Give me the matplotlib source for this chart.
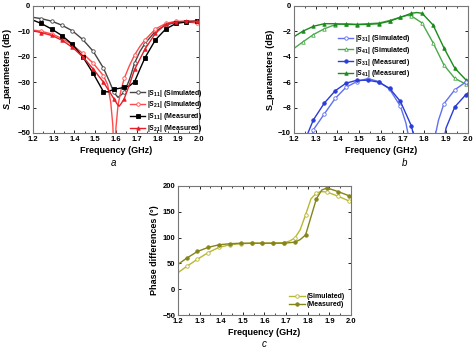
import numpy as np
import matplotlib
matplotlib.use("Agg")
from matplotlib import pyplot as plt

plt.rcParams['font.family'] = 'Liberation Sans'
plt.rcParams['font.weight'] = 'bold'
plt.rcParams['mathtext.fontset'] = 'custom'
plt.rcParams['mathtext.rm'] = 'Liberation Sans:bold'
plt.rcParams['mathtext.it'] = 'Liberation Sans:italic:bold'
plt.rcParams['axes.linewidth'] = 0.8

marker_freqs = [1.24, 1.29, 1.34, 1.39, 1.44, 1.49, 1.54, 1.59, 1.64, 1.69,
                1.74, 1.79, 1.84, 1.89, 1.94, 1.99]

# panel a: |S11| and |S21|
s11_sim_f = [1.20, 1.24, 1.29, 1.34, 1.39, 1.44, 1.49, 1.54, 1.57, 1.59, 1.61, 1.64,
             1.665, 1.69, 1.715, 1.74, 1.79, 1.84, 1.89, 1.94, 1.99, 2.00]
s11_sim = [-4.5, -5.0, -6.0, -7.6, -9.8, -13.2, -17.8, -24.5, -30, -34, -36, -34,
           -29, -22.5, -18, -14.8, -10, -7.5, -6.5, -6.2, -6.0, -6.0]

s21_sim_f = [1.20, 1.24, 1.29, 1.34, 1.39, 1.44, 1.49, 1.54, 1.56, 1.575, 1.585, 1.59,
             1.594, 1.60, 1.61, 1.625, 1.64, 1.665, 1.69, 1.715, 1.74, 1.79, 1.84,
             1.89, 1.94, 1.99, 2.00]
s21_sim = [-9.5, -10.0, -11.0, -12.8, -15.3, -18.7, -22.5, -27.5, -31, -38, -47, -58,
           -66, -48, -39, -33, -28.5, -23.5, -19.3, -16, -13.4, -9.1, -6.9,
           -6.0, -6.3, -6.7, -6.8]

s11_meas_f = [1.20, 1.24, 1.29, 1.34, 1.39, 1.44, 1.49, 1.54, 1.565, 1.575, 1.59, 1.64,
              1.665, 1.69, 1.715, 1.74, 1.79, 1.84, 1.89, 1.94, 1.99, 2.00]
s11_meas = [-5.6, -6.9, -9.1, -11.7, -15.1, -20, -26.5, -33.8, -33.8, -33.3, -32.8, -32.1,
            -31.5, -29.8, -25, -20.4, -13.4, -9.1, -6.9, -6.3, -6.0, -6.0]

s21_meas_f = [1.20, 1.24, 1.29, 1.34, 1.39, 1.44, 1.49, 1.54, 1.59, 1.605, 1.615, 1.625,
              1.64, 1.665, 1.69, 1.74, 1.79, 1.84, 1.89, 1.94, 1.99, 2.00]
s21_meas = [-9.8, -10.5, -11.6, -13.5, -16.3, -20, -24.8, -30, -36.5, -38.5, -39.5, -38.5,
            -36.5, -31, -25, -17, -10.8, -7.2, -6.3, -5.9, -6.1, -6.1]

# panel b: |S31| and |S41|
s31_sim_f = [1.27, 1.29, 1.34, 1.39, 1.44, 1.49, 1.54, 1.59, 1.64, 1.69, 1.715, 1.73]
s31_sim = [-11, -9.74, -8.5, -7.28, -6.4, -5.95, -5.72, -5.95, -6.55, -7.9, -9.2, -10.5]
s31_sim_f2 = [1.84, 1.865, 1.89, 1.94, 1.99, 2.00]
s31_sim2 = [-11, -9, -7.7, -6.6, -6.0, -5.95]

s31_meas_f = [1.25, 1.29, 1.34, 1.39, 1.44, 1.49, 1.54, 1.59, 1.64, 1.69, 1.74, 1.755]
s31_meas = [-10.6, -8.96, -7.65, -6.68, -6.08, -5.85, -5.85, -6.0, -6.48, -7.52, -9.43, -10.5]
s31_meas_f2 = [1.885, 1.90, 1.94, 1.99, 2.00]
s31_meas2 = [-11, -9.6, -7.95, -7.0, -6.85]

s41_sim_f = [1.20, 1.24, 1.29, 1.34, 1.39, 1.44, 1.49, 1.54, 1.59, 1.64, 1.69, 1.72,
             1.74, 1.79, 1.84, 1.89, 1.94, 1.99, 2.00]
s41_sim = [-3.35, -2.85, -2.25, -1.8, -1.47, -1.4, -1.45, -1.4, -1.35, -1.15, -0.88, -0.75,
           -0.78, -1.35, -2.9, -4.65, -5.7, -6.15, -6.2]

s41_meas_f = [1.20, 1.24, 1.29, 1.34, 1.39, 1.44, 1.49, 1.54, 1.59, 1.64, 1.69, 1.74,
              1.765, 1.79, 1.84, 1.89, 1.94, 1.99, 2.00]
s41_meas = [-2.43, -2.0, -1.6, -1.4, -1.4, -1.45, -1.47, -1.45, -1.4, -1.2, -0.9, -0.58,
            -0.52, -0.58, -1.5, -3.3, -4.9, -5.8, -5.85]

# panel c: phase difference
ph_sim_f = [1.20, 1.24, 1.29, 1.34, 1.39, 1.44, 1.49, 1.54, 1.59, 1.64, 1.69, 1.715,
            1.74, 1.765, 1.79, 1.815, 1.84, 1.86, 1.89, 1.94, 1.99, 2.00]
ph_sim = [32, 44, 58, 71, 81, 86, 88, 89, 89, 89.5, 90, 93,
          99, 115, 144, 175, 186, 189, 188, 180, 171, 169]
ph_meas_f = [1.20, 1.24, 1.29, 1.34, 1.39, 1.44, 1.49, 1.54, 1.59, 1.64, 1.69, 1.74,
             1.765, 1.79, 1.815, 1.84, 1.865, 1.89, 1.94, 1.99, 2.00]
ph_meas = [48, 60, 73, 81, 86, 88, 89, 89, 89, 89, 89, 91,
           96, 105, 140, 175, 192, 196, 189, 181, 180]


def draw(ax, f, y, color, marker, filled, label=None, lw=1.0):
    f = np.array(f)
    y = np.array(y)
    mk = np.isin(np.round(f, 3), np.round(marker_freqs, 3))
    ax.plot(f, y, color=color, lw=lw, label=label, marker=marker, markersize=2.5,
            markevery=list(np.where(mk)[0]),
            markerfacecolor=color if filled else 'white', markeredgecolor=color,
            markeredgewidth=0.6)


def style(ax, ylim, yticks, ylabel):
    ax.set_xlim(1.2, 2.0)
    ax.set_ylim(*ylim)
    ax.set_xticks([1.2, 1.3, 1.4, 1.5, 1.6, 1.7, 1.8, 1.9, 2.0])
    ax.set_xticks(np.arange(1.25, 2.0, 0.1), minor=True)
    ax.set_yticks(yticks)
    ax.tick_params(direction='in', labelsize=5.5, length=2.5, width=0.6, pad=2,
                   top=True, right=True, which='major')
    ax.tick_params(direction='in', length=1.5, width=0.5, top=True, right=True,
                   which='minor')
    for s in ax.spines.values():
        s.set_color('#777777')
    ax.set_xlabel('Frequency (GHz)', fontsize=6.5, fontweight='bold', labelpad=2)
    ax.set_ylabel(ylabel, fontsize=6.5, fontweight='bold', labelpad=2)


leg_kw = dict(loc='upper left', frameon=False, fontsize=5.0, handlelength=2.2,
              labelspacing=0.12, borderpad=0.1, handletextpad=0.3)

fig = plt.figure(figsize=(4.74, 3.49), dpi=100)

ax1 = fig.add_axes([0.0696, 0.619, 0.350, 0.364])
draw(ax1, s11_sim_f, s11_sim, '#444444', 'o', False, r'$|S_{11}|$ (Simulated)')
draw(ax1, s21_sim_f, s21_sim, '#ff4a4a', 'o', False, r'$|S_{21}|$ (Simulated)')
draw(ax1, s11_meas_f, s11_meas, '#000000', 's', True, r'$|S_{11}|$ (Measured)')
draw(ax1, s21_meas_f, s21_meas, '#e61e28', '^', True, r'$|S_{21}|$ (Measured)')
style(ax1, (-50, 0), [0, -10, -20, -30, -40, -50], r'$S$_parameters (dB)')
ax1.legend(bbox_to_anchor=(0.56, 0.39), **leg_kw)

ax2 = fig.add_axes([0.620, 0.619, 0.367, 0.364])
draw(ax2, s31_sim_f, s31_sim, '#6070f0', 'o', False, r'$|S_{31}|$ (Simulated)')
draw(ax2, s41_sim_f, s41_sim, '#4aaa4a', '^', False, r'$|S_{41}|$ (Simulated)')
draw(ax2, s31_meas_f, s31_meas, '#2a3cd8', 'o', True, r'$|S_{31}|$ (Measured)')
draw(ax2, s41_meas_f, s41_meas, '#1c8a1c', '^', True, r'$|S_{41}|$ (Measured)')
draw(ax2, s31_sim_f2, s31_sim2, '#6070f0', 'o', False)
draw(ax2, s31_meas_f2, s31_meas2, '#2a3cd8', 'o', True)
style(ax2, (-10, 0), [0, -2, -4, -6, -8, -10], 'S_parameters (dB)')
ax2.legend(bbox_to_anchor=(0.23, 0.82), **leg_kw)

ax3 = fig.add_axes([0.3755, 0.0974, 0.365, 0.370])
draw(ax3, ph_sim_f, ph_sim, '#b8b832', 'o', False, '(Simulated)')
draw(ax3, ph_meas_f, ph_meas, '#85851a', 'o', True, '(Measured)')
style(ax3, (-50, 200), [-50, 0, 50, 100, 150, 200], 'Phase differences (°)')
ax3.legend(bbox_to_anchor=(0.62, 0.20), **leg_kw)

fig.text(113 / 474, 1 - 163 / 349, 'a', fontsize=7, style='italic',
         fontweight='normal', ha='center', va='center')
fig.text(405 / 474, 1 - 163 / 349, 'b', fontsize=7, style='italic',
         fontweight='normal', ha='center', va='center')
fig.text(264 / 474, 1 - 344 / 349, 'c', fontsize=7, style='italic',
         fontweight='normal', ha='center', va='center')

plt.savefig("out.png", dpi=100)
